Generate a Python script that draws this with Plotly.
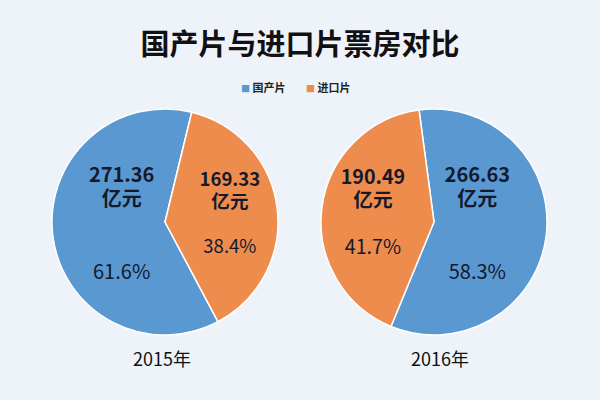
import plotly.graph_objects as go

categories = ["国产片", "进口片"]
years = ["2015年", "2016年"]
box_2015 = [271.36, 169.33]
box_2016 = [266.63, 190.49]
colors = ["#5A98D2", "#EE8C4E"]

FONT = "Noto Sans CJK SC, Microsoft YaHei, sans-serif"
VAL = "<span style='font-size:20px'><b>%{value:.2f}<br>亿元</b></span>"
PCT = "<span style='font-size:20px'>%{percent:.1%}</span>"
tmpl_big = VAL + "<br><br><br>" + PCT
tmpl_small = VAL + "<br><br>" + PCT + "<br>&nbsp;"

fig = go.Figure()
fig.add_trace(go.Pie(
    labels=categories, values=box_2015, sort=False, direction="clockwise",
    rotation=152, marker=dict(colors=colors, line=dict(color="white", width=1.5)),
    texttemplate=[tmpl_big, tmpl_small], textposition="inside",
    insidetextorientation="horizontal",
    insidetextfont=dict(family=FONT, size=18.5, color="#15192a"),
    hoverinfo="label+value+percent", showlegend=False,
    domain=dict(x=[52/600, 278/600], y=[1-335/400, 1-109/400]),
))
fig.add_trace(go.Pie(
    labels=categories, values=box_2016, sort=False, direction="clockwise",
    rotation=-7.6, marker=dict(colors=colors, line=dict(color="white", width=1.5)),
    texttemplate=[tmpl_big, tmpl_small], textposition="inside",
    insidetextorientation="horizontal",
    insidetextfont=dict(family=FONT, size=18.5, color="#15192a"),
    hoverinfo="label+value+percent", showlegend=False,
    domain=dict(x=[321/600, 547/600], y=[1-335/400, 1-109/400]),
))

# year captions
for yr, xc in zip(years, [162/600, 440/600]):
    fig.add_annotation(text=yr, x=xc, y=1-358/400, xref="paper", yref="paper",
                       xanchor="center", yanchor="middle",
                       showarrow=False, font=dict(family=FONT, size=18, color="#111111"))

# legend (drawn as text so that marker/label spacing matches the original)
for cat, col, xl in zip(categories, colors, [239/600, 304/600]):
    fig.add_annotation(
        text=f"<span style='color:{col};font-size:9px'>■</span> <b>{cat}</b>",
        x=xl, y=1-87/400, xref="paper", yref="paper", xanchor="left", yanchor="middle",
        showarrow=False, font=dict(family=FONT, size=11, color="#222222"))

fig.update_layout(
    width=600, height=400,
    margin=dict(l=0, r=0, t=0, b=0),
    paper_bgcolor="#EEF3FA", plot_bgcolor="#EEF3FA",
    title=dict(text="<b>国产片与进口片票房对比</b>", x=0.5, xanchor="center",
               y=1-45/400, yanchor="middle",
               font=dict(family=FONT, size=29, color="#111111")),
    showlegend=False,
)

fig.write_html("out.html")
